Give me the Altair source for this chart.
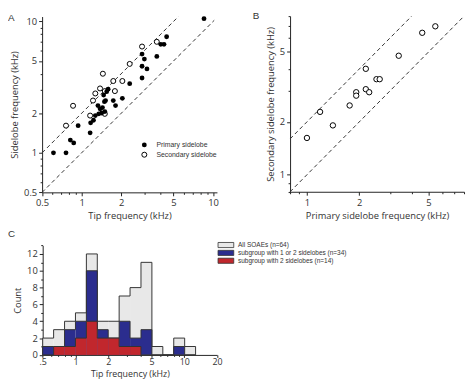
import json
import altair as alt
import pandas as pd

# ---------------- data ----------------
# Panel A: tip frequency vs sidelobe frequency (kHz)
a_primary_tip = [0.61, 0.76, 0.82, 0.87, 0.94, 1.16, 1.17, 1.23, 1.27, 1.33, 1.35, 1.38, 1.42, 1.44,
                 1.47, 1.49, 1.50, 1.52, 1.55, 1.59, 1.74, 1.81, 2.04, 2.32, 2.88, 2.88, 2.88, 3.00,
                 3.14, 3.73, 4.00, 4.23, 4.43, 8.53]
a_primary_side = [1.00, 1.00, 1.25, 1.19, 1.61, 1.42, 1.69, 1.77, 1.92, 2.29, 1.98, 2.16, 2.01, 2.21,
                  2.75, 2.45, 2.06, 2.50, 2.92, 3.05, 2.50, 2.29, 2.60, 3.36, 3.71, 4.56, 5.64, 5.17,
                  4.35, 5.42, 6.70, 6.70, 7.65, 10.5]
a_secondary_tip = [0.76, 0.86, 1.16, 1.22, 1.27, 1.38, 1.45, 1.50, 1.50, 1.74, 1.79, 2.04, 2.32, 2.88, 3.73]
a_secondary_side = [1.61, 2.28, 1.92, 2.50, 2.83, 3.09, 4.00, 2.95, 1.98, 3.52, 2.95, 3.52, 4.75, 6.44, 7.00]
a_guide_x1 = [0.5, 10.2]
a_guide_y1 = [0.5, 10.2]
a_guide_x2 = [0.5, 5.45]
a_guide_y2 = [1.0, 10.9]

# Panel B: primary vs secondary sidelobe frequency (kHz)
b_primary = [1.00, 1.19, 1.41, 1.76, 1.92, 1.92, 2.18, 2.18, 2.28, 2.51, 2.62, 3.37, 4.60, 5.47]
b_secondary = [1.62, 2.28, 1.91, 2.48, 2.95, 2.82, 4.01, 3.07, 2.95, 3.50, 3.50, 4.76, 6.43, 7.00]
b_guide_x1 = [0.8, 8.0]
b_guide_y1 = [0.8, 8.0]
b_guide_x2 = [0.8, 4.0]
b_guide_y2 = [1.6, 8.0]

# Panel C: histogram (third-octave bins)
bin_edges = [0.5, 0.63, 0.794, 1.0, 1.26, 1.587, 2.0, 2.52, 3.175, 4.0, 5.04, 6.35, 8.0, 10.08, 12.7]
count_all = [2, 3, 4, 5, 12, 4, 4, 7, 8, 11, 1, 0, 2, 1]
count_1or2 = [1, 1, 3, 4, 10, 3, 2, 4, 2, 3, 0, 0, 1, 0]
count_2 = [0, 1, 1, 2, 4, 2, 2, 1, 1, 0, 0, 0, 0, 0]
legend_c = ["All SOAEs (n=64)", "subgroup with 1 or 2 sidelobes (n=34)", "subgroup with 2 sidelobes (n=14)"]
legend_a = ["Primary sidelobe", "Secondary sidelobe"]

# ---------------- style ----------------
W, H = 466, 375
FONT = "Open Sans"
TXT = "#333333"
AX = "#222222"
GRAY, BLUE, RED = "#e8e8e8", "#2b2d8e", "#c1272d"


def axis(orient, offset, values, majors, title, label_expr="datum.value + ''", title_padding=4,
         tick_major=3.5, tick_minor=2, label_padding=2, label_size=9.5, title_size=9.5):
    test = "indexof(%s, datum.value) >= 0" % json.dumps(majors)
    return alt.Axis(
        orient=orient, offset=offset, values=values, title=title,
        labelExpr="%s ? (%s) : ''" % (test, label_expr),
        tickSize={"condition": {"test": test, "value": tick_major}, "value": tick_minor},
        labelOverlap=False, labelFlush=False, grid=False,
        labelFont=FONT, labelFontSize=label_size, labelColor=TXT, labelPadding=label_padding,
        titleFont=FONT, titleFontSize=title_size, titleFontWeight="normal", titleColor=TXT,
        titlePadding=title_padding,
        domainColor=AX, tickColor=AX, domainWidth=1, tickWidth=1,
    )


log_ticks_a = [0.5, 0.6, 0.7, 0.8, 0.9, 1, 2, 3, 4, 5, 6, 7, 8, 9, 10]
log_ticks_b = [0.8, 0.9, 1, 2, 3, 4, 5, 6, 7, 8]
log_ticks_c = [0.5, 0.6, 0.7, 0.8, 0.9, 1, 2, 3, 4, 5, 6, 7, 8, 9, 10, 20]

# ---- Panel A ----
ax_a = alt.X("fx:Q", scale=alt.Scale(type="log", domain=[0.5, 10.7], range=[34.7, 212.6], nice=False),
             axis=axis("bottom", 184.3 - H, log_ticks_a, [0.5, 1, 2, 5, 10], "Tip frequency (kHz)"))
ay_a = alt.Y("fy:Q", scale=alt.Scale(type="log", domain=[0.5, 10.9], range=[184.3, 5.4], nice=False),
             axis=axis("left", -34.7, log_ticks_a, [0.5, 1, 2, 5, 10], "Sidelobe frequency (kHz)"))

df_a1 = pd.DataFrame({"fx": a_guide_x1, "fy": a_guide_y1})
df_a2 = pd.DataFrame({"fx": a_guide_x2, "fy": a_guide_y2})
df_ap = pd.DataFrame({"fx": a_primary_tip, "fy": a_primary_side})
df_as = pd.DataFrame({"fx": a_secondary_tip, "fy": a_secondary_side})

dash = dict(color="#333333", strokeWidth=1, strokeDash=[4, 3])
panel_a = alt.layer(
    alt.Chart(df_a1).mark_line(**dash).encode(x=ax_a, y=ay_a),
    alt.Chart(df_a2).mark_line(**dash).encode(x=ax_a, y=ay_a),
    alt.Chart(df_as).mark_circle(fill="white", stroke="black", strokeWidth=1, opacity=1, size=26).encode(x=ax_a, y=ay_a),
    alt.Chart(df_ap).mark_circle(color="black", opacity=1, size=24).encode(x=ax_a, y=ay_a),
)

# ---- Panel B ----
ax_b = alt.X("fx:Q", scale=alt.Scale(type="log", domain=[0.8, 8], range=[287, 464], nice=False),
             axis=axis("bottom", 183.7 - H, log_ticks_b, [1, 2, 5], "Primary sidelobe frequency (kHz)"))
ay_b = alt.Y("fy:Q", scale=alt.Scale(type="log", domain=[0.8, 8], range=[183.7, 5], nice=False),
             axis=axis("left", -287, log_ticks_b, [1, 2, 5], "Secondary sidelobe frequency (kHz)"))

df_b1 = pd.DataFrame({"fx": b_guide_x1, "fy": b_guide_y1})
df_b2 = pd.DataFrame({"fx": b_guide_x2, "fy": b_guide_y2})
df_bp = pd.DataFrame({"fx": b_primary, "fy": b_secondary})
panel_b = alt.layer(
    alt.Chart(df_b1).mark_line(**dash).encode(x=ax_b, y=ay_b),
    alt.Chart(df_b2).mark_line(**dash).encode(x=ax_b, y=ay_b),
    alt.Chart(df_bp).mark_circle(fill="white", stroke="black", strokeWidth=1, opacity=1, size=30).encode(x=ax_b, y=ay_b),
)

# ---- Panel C ----
c_xscale = alt.Scale(type="log", domain=[0.5, 20], range=[35.3, 212.7], nice=False)
c_yscale = alt.Scale(domain=[0, 13], range=[349.7, 238.4], nice=False, zero=False)
c_xaxis = axis("bottom", 349.7 - H, log_ticks_c, [0.5, 1, 2, 5, 10, 20], "Tip frequency (kHz)",
               "datum.value == 0.5 ? '.5' : datum.value + ''", title_padding=3,
               tick_major=2.5, tick_minor=1.5, label_padding=0, label_size=9, title_size=9)
c_yaxis = axis("left", -35.3, list(range(0, 14)), [0, 2, 4, 6, 8, 10, 12], "Count")


def bars(counts):
    return pd.DataFrame({"lo": bin_edges[:-1], "hi": bin_edges[1:], "n": counts, "z": [0] * len(counts)})


def outline(counts):
    xs, ys = [bin_edges[0]], [0]
    for i, c in enumerate(counts):
        xs += [bin_edges[i], bin_edges[i + 1]]
        ys += [c, c]
    xs.append(bin_edges[len(counts)])
    ys.append(0)
    return pd.DataFrame({"lo": xs, "n": ys, "i": list(range(len(xs)))})


def hist(counts, fill):
    fill_layer = alt.Chart(bars(counts)).mark_rect(color=fill, opacity=1, strokeWidth=0).encode(
        x=alt.X("lo:Q", scale=c_xscale, axis=c_xaxis), x2="hi:Q",
        y=alt.Y("n:Q", scale=c_yscale, axis=c_yaxis, stack=None), y2="z:Q")
    line_layer = alt.Chart(outline(counts)).mark_line(color="#333333", strokeWidth=1).encode(
        x=alt.X("lo:Q", scale=c_xscale, axis=c_xaxis),
        y=alt.Y("n:Q", scale=c_yscale, axis=c_yaxis, stack=None), order="i:Q")
    return [fill_layer, line_layer]


panel_c = alt.layer(*hist(count_all, GRAY), *hist(count_1or2, BLUE), *hist(count_2, RED))

# ---- annotations (letters & legends) ----
one = pd.DataFrame({"k": [0]})


def txt(s, x, y, size, align="left", baseline="middle", font=FONT):
    return alt.Chart(one).mark_text(text=s, align=align, baseline=baseline, fontSize=size,
                                    font=font, color=TXT).encode(x=alt.value(x), y=alt.value(y))


def swatch(x, y, w, h, fill):
    return alt.Chart(one).mark_rect(color=fill, stroke="#333333", strokeWidth=0.8, opacity=1).encode(
        x=alt.value(x), x2=alt.value(x + w), y=alt.value(y), y2=alt.value(y + h))


notes = [
    txt("A", 0, 2, 10, baseline="top", font="Liberation Sans"),
    txt("B", 249, 0, 10, baseline="top", font="Liberation Sans"),
    txt("C", 0, 227, 10, font="Liberation Sans"),
    alt.Chart(one).mark_circle(color="black", opacity=1, size=24).encode(x=alt.value(138.7), y=alt.value(136)),
    alt.Chart(one).mark_circle(fill="white", stroke="black", strokeWidth=1, opacity=1, size=26).encode(
        x=alt.value(138.7), y=alt.value(146)),
    txt(legend_a[0], 151, 136, 7, font="Liberation Sans"),
    txt(legend_a[1], 151, 146, 7, font="Liberation Sans"),
    swatch(213.7, 235.3, 16, 5.2, GRAY),
    swatch(213.7, 243.3, 16, 5.2, BLUE),
    swatch(213.7, 251.3, 16, 5.2, RED),
    txt(legend_c[0], 234, 237.6, 6.6, font="Liberation Sans"),
    txt(legend_c[1], 234, 246, 6.6, font="Liberation Sans"),
    txt(legend_c[2], 234, 254.4, 6.6, font="Liberation Sans"),
]

chart = alt.layer(panel_a, panel_b, panel_c, *notes).resolve_scale(
    x="independent", y="independent"
).resolve_axis(x="independent", y="independent").properties(
    width=W, height=H, padding=0, autosize="none"
).configure_view(stroke=None)

chart.save("out.html", embed_options={"renderer": "svg", "actions": False})
